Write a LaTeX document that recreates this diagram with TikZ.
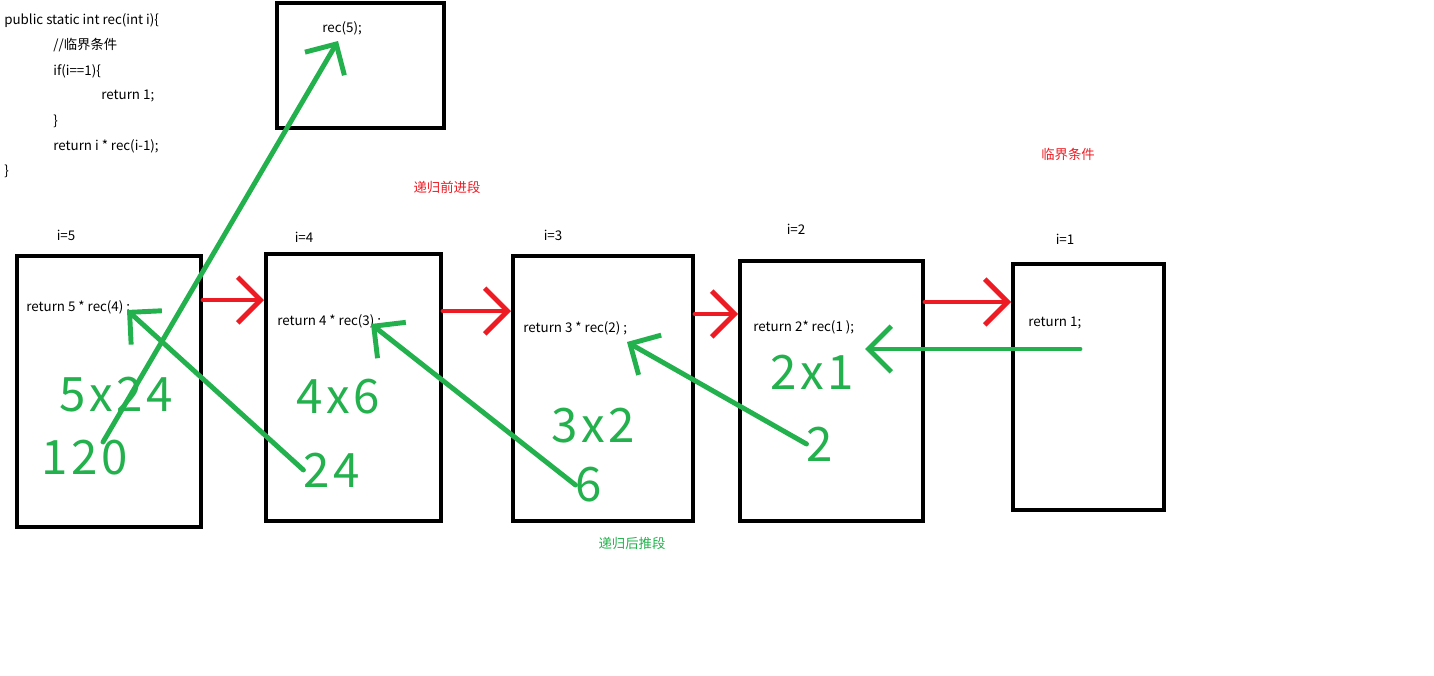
\documentclass[tikz,border=0pt]{standalone}
\usepackage{fontspec}
\setmainfont{Noto Sans CJK SC}
\newfontfamily\handfont[LetterSpace=8]{Noto Sans CJK SC}
\usetikzlibrary{arrows.meta}
\definecolor{paintred}{RGB}{237,28,36}
\definecolor{paintgreen}{RGB}{34,177,76}
\begin{document}
\begin{tikzpicture}[x=0.02cm, y=-0.02cm,
        code/.style={anchor=west, inner sep=0pt, font=\fontsize{7.6}{8}\selectfont},
        lbl/.style={inner sep=0pt, font=\fontsize{7.6}{8}\selectfont},
        hand/.style={inner sep=0pt, text=paintgreen, font=\handfont\fontsize{27}{28}\selectfont},
        fwd/.style={paintred, line width=2.8pt, line cap=round, -{Straight Barb[length=13pt, width=26pt]}},
        bwd/.style={paintgreen, line width=2.8pt, line cap=round, -{Straight Barb[length=13pt, width=26pt]}}]
        \useasboundingbox (0,0) rectangle (1434,676);
        \newcommand{\callbox}[4]{
            \node [draw=black, line width=2.3pt, inner sep=0pt, minimum width=#3, minimum height=#4] (#1) at (#2) {};
        }

        \node [code] (c1) at (4,21) {public static int rec(int i)\{};
        \node [code] (c2) at (53,45) {//临界条件};
        \node [code] (c3) at (53,71) {if(i==1)\{};
        \node [code] (c4) at (101,96) {return 1;};
        \node [code] (c5) at (53,121) {\}};
        \node [code] (c6) at (53,146) {return i * rec(i-1);};
        \node [code] (c7) at (4,171) {\}};

        \callbox{top}{360.5,65.5}{3.34cm}{2.5cm}
        \callbox{b5}{109,391.5}{3.68cm}{5.42cm}
        \callbox{b4}{353.5,387.5}{3.5cm}{5.34cm}
        \callbox{b3}{603,388.5}{3.6cm}{5.3cm}
        \callbox{b2}{831.5,391}{3.66cm}{5.2cm}
        \callbox{b1}{1088.5,387}{3.02cm}{4.92cm}

        \node [code] (call) at (322,28) {rec(5);};
        \node [lbl] (i5) at (66,235) {i=5};
        \node [lbl] (i4) at (304,237) {i=4};
        \node [lbl] (i3) at (553,235) {i=3};
        \node [lbl] (i2) at (796,229) {i=2};
        \node [lbl] (i1) at (1065,239) {i=1};

        \node [code] (r5) at (26,307) {return 5 * rec(4) ;};
        \node [code] (r4) at (277,321) {return 4 * rec(3) ;};
        \node [code] (r3) at (523,328) {return 3 * rec(2) ;};
        \node [code] (r2) at (753,327) {return 2* rec(1 );};
        \node [code] (r1) at (1028,323) {return 1;};

        \node [lbl, text=paintred] (crit) at (1068,154) {临界条件};
        \node [lbl, text=paintred] (ahead) at (447,187) {递归前进段};
        \node [lbl, text=paintgreen] (back) at (632,543) {递归后推段};

        \node [hand] (h5x24) at (116,395) {5x24};
        \node [hand] (h120) at (85,458) {120};
        \node [hand] (h4x6) at (338,397) {4x6};
        \node [hand] (h24) at (332,470) {24};
        \node [hand] (h3x2) at (593,426) {3x2};
        \node [hand] (h6) at (589,485) {6};
        \node [hand] (h2x1) at (812,372) {2x1};
        \node [hand] (h2) at (820,444) {2};

        \coordinate (a1) at (0,300);
        \coordinate (a2) at (0,311);
        \coordinate (a3) at (0,314);
        \coordinate (a4) at (0,302);
        \draw [fwd] (b5.east |- a1) -- (b4.west |- a1);
        \draw [fwd] (b4.east |- a2) -- (b3.west |- a2);
        \draw [fwd] (b3.east |- a3) -- (b2.west |- a3);
        \draw [fwd] (b2.east |- a4) -- (b1.west |- a4);

        \coordinate (t6) at (338,41);
        \coordinate (t5) at (127,310);
        \coordinate (t4) at (371,324);
        \coordinate (t3) at (627,342);
        \coordinate (t2) at (865,349);
        \coordinate (u5) at (103,442);
        \coordinate (u1) at (1080,349);
        \draw [bwd] (u5) -- (t6);
        \draw [bwd] (h24.west) -- (t5);
        \draw [bwd] (h6.west) -- (t4);
        \draw [bwd] (h2.west) -- (t3);
        \draw [bwd] (u1) -- (t2);
    \end{tikzpicture}
\end{document}
